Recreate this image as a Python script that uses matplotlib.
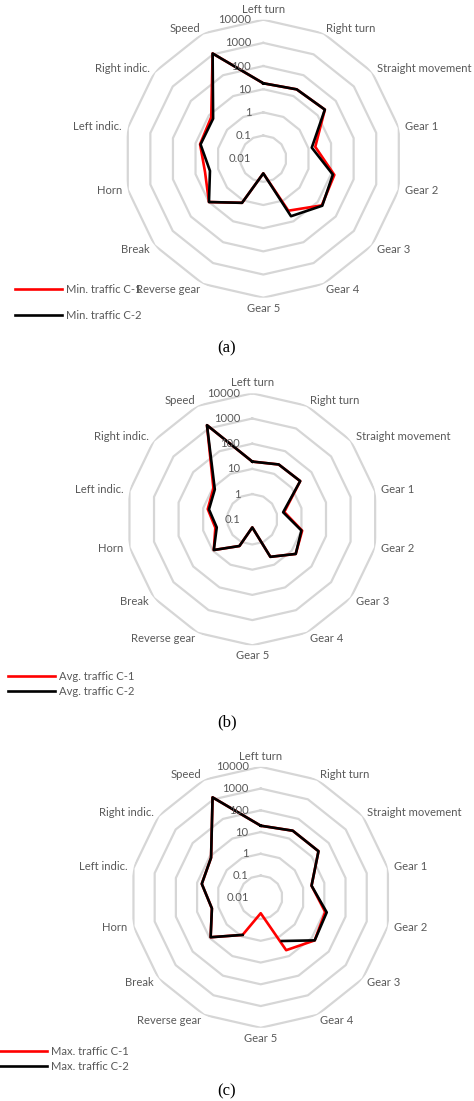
import numpy as np
import matplotlib
matplotlib.use('Agg')
import matplotlib.pyplot as plt

categories = ['Left turn', 'Right turn', 'Straight movement', 'Gear 1', 'Gear 2',
              'Gear 3', 'Gear 4', 'Gear 5', 'Reverse gear', 'Break', 'Horn',
              'Left indic.', 'Right indic.', 'Speed']

# (a) minimum traffic
min_c1 = [18, 21, 25, 2.0, 14, 17, 3.1, 0.043, 1.3, 10, 3.8, 6.3, 7.5, 1100]
min_c2 = [18, 21, 25, 1.4, 12, 18, 5.7, 0.043, 1.3, 10, 2.3, 6.0, 5.9, 1100]
# (b) average traffic
avg_c1 = [19.5, 26, 27, 2.0, 10.7, 16, 4.5, 0.21, 1.5, 9, 3.2, 6.5, 9.4, 1400]
avg_c2 = [19.5, 26, 27, 1.8, 10, 16, 4.5, 0.21, 1.5, 9, 2.8, 5.8, 8.0, 1400]
# (c) maximum traffic (C-2 has no value for Gear 5)
max_c1 = [19.6, 25, 25, 2.5, 11, 15, 5.0, 0.054, 0.83, 8.8, 2.0, 6.0, 8.3, 1260]
max_c2 = [19.6, 25, 25, 2.5, 13, 15, 1.7, np.nan, 0.83, 8.8, 2.0, 6.0, 8.3, 1260]

W, H = 474, 1101
plt.rcParams['font.family'] = ['Lato', 'DejaVu Sans']
fig = plt.figure(figsize=(W / 100, H / 100), dpi=100)

text_grey = '#595959'
grid_grey = '#d6d6d6'
fs = 8.1

theta = np.linspace(0, 2 * np.pi, len(categories), endpoint=False)
theta_c = np.append(theta, theta[0])


def closed(vals):
    vals = list(vals)
    return np.array(vals + vals[:1], dtype=float)


def panel(cx, cy, R, rmin, c1, c2, names, leg_x, leg_y, leg_space, cap, cap_y):
    ax = fig.add_axes([(cx - R) / W, (H - cy - R) / H, 2 * R / W, 2 * R / H],
                      projection='polar')
    ax.set_theta_zero_location('N')
    ax.set_theta_direction(-1)
    ax.set_rscale('log')
    ax.set_rlim(rmin, 1e4)
    ax.grid(False)
    ax.spines['polar'].set_visible(False)
    ax.set_xticks([])
    ax.set_yticks([])
    ax.set_yticks([], minor=True)
    ax.patch.set_alpha(0)

    rings = 10.0 ** np.arange(np.log10(rmin) + 1, 5)
    for v in rings:
        ax.plot(theta_c, np.full(len(theta_c), v), color=grid_grey, lw=1.6, zorder=1)

    l1, = ax.plot(theta_c, closed(c1), color='#ff0000', lw=1.9, zorder=3)
    l2, = ax.plot(theta_c, closed(c2), color='black', lw=1.9, zorder=4)

    # radial labels
    for v in np.concatenate([[rmin], rings]):
        lab = '%g' % v
        ax.annotate(lab, xy=(0, v), xytext=(-12, 0), textcoords='offset pixels',
                    ha='right', va='center', fontsize=fs, color=text_grey, zorder=5)

    # category labels
    for t, name in zip(theta, categories):
        s, c = np.sin(t), np.cos(t)
        if abs(s) < 0.1:
            ha = 'center'
            va = 'bottom' if c > 0 else 'top'
            off = 5
        else:
            ha = 'left' if s > 0 else 'right'
            va = 'center'
            off = 6
        ax.annotate(name, xy=(t, 1e4), xytext=(off * s, off * c),
                    textcoords='offset pixels', ha=ha, va=va,
                    fontsize=fs, color=text_grey)

    fig.legend([l1, l2], names, loc='upper left',
               bbox_to_anchor=(leg_x / W, 1 - leg_y / H), frameon=False,
               fontsize=fs, labelcolor=text_grey, handlelength=4.2,
               handletextpad=0.35, labelspacing=leg_space, borderpad=0,
               borderaxespad=0)

    fig.text(227 / W, 1 - cap_y / H, cap, ha='center', va='center',
             family='Liberation Serif', fontsize=12)


panel(263.3, 158.7, 139, 0.01, min_c1, min_c2,
      ['Min. traffic C-1', 'Min. traffic C-2'], 15, 284, 1.3, '(a)', 348)
panel(252.3, 519.3, 126, 0.1, avg_c1, avg_c2,
      ['Avg. traffic C-1', 'Avg. traffic C-2'], 8, 671, 0.35, '(b)', 722)
panel(260.7, 897.3, 130.5, 0.01, max_c1, max_c2,
      ['Max. traffic C-1', 'Max. traffic C-2'], 0, 1046, 0.35, '(c)', 1091)

fig.savefig('out.png', dpi=100)
